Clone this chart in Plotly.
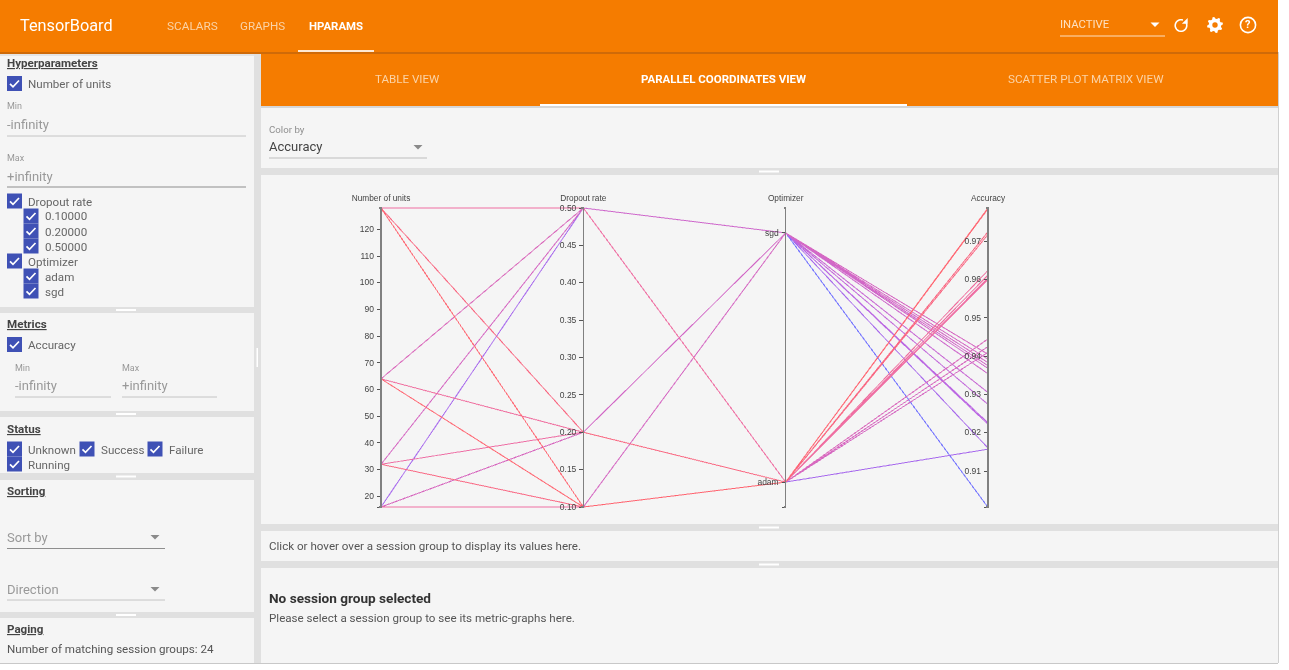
import math
import plotly.graph_objects as go

# ---------- data ----------
units = [128, 64, 128, 32, 64, 128, 16, 32, 64, 32, 16, 16,
         128, 64, 128, 32, 64, 128, 16, 32, 64, 16, 32, 16]
dropout = [0.1, 0.1, 0.2, 0.1, 0.2, 0.5, 0.1, 0.2, 0.5, 0.5, 0.2, 0.5,
           0.1, 0.1, 0.2, 0.1, 0.2, 0.5, 0.1, 0.2, 0.5, 0.2, 0.5, 0.5]
optimizer = [1] * 12 + [0] * 12   # 0 = adam, 1 = sgd
accuracy = [0.9405, 0.9392, 0.9383, 0.9375, 0.9368, 0.9354, 0.9305, 0.9274, 0.9226, 0.9222, 0.9160, 0.9005,
            0.9787, 0.9785, 0.9725, 0.9718, 0.9624, 0.9612, 0.9604, 0.9600, 0.9445, 0.9425, 0.9410, 0.9157]

# the first and last entries are the unlabelled end ticks of each axis
unit_ticks = [16, 20, 30, 40, 50, 60, 70, 80, 90, 100, 110, 120, 128]
unit_labels = ["", "20", "30", "40", "50", "60", "70", "80", "90", "100", "110", "120", ""]
dropout_ticks = [0.10, 0.15, 0.20, 0.25, 0.30, 0.35, 0.40, 0.45, 0.50]
optimizer_ticks = [-0.1, 0, 1, 1.1]
optimizer_labels = ["", "adam", "sgd", ""]
accuracy_ticks = [0.9006, 0.91, 0.92, 0.93, 0.94, 0.95, 0.96, 0.97, 0.9787]
accuracy_labels = ["", "0.91", "0.92", "0.93", "0.94", "0.95", "0.96", "0.97", ""]

W, H = 1289, 670
ORANGE = "#f57c00"
PANEL = "#f5f5f5"
GUTTER = "#e0e0e0"
BLUE = "#3f51b5"
FONT = "Roboto"
BODY = 11.6

shapes, annos = [], []


def X(x):
    return x / W


def Y(y):
    return 1 - y / H


def rect(x0, y0, x1, y1, color):
    shapes.append(dict(type="rect", xref="paper", yref="paper", x0=X(x0), x1=X(x1), y0=Y(y0), y1=Y(y1),
                       fillcolor=color, line=dict(width=0), layer="below"))


def hline(x0, x1, y, color="#bdbdbd", w=1):
    shapes.append(dict(type="line", xref="paper", yref="paper", x0=X(x0), x1=X(x1), y0=Y(y), y1=Y(y),
                       line=dict(color=color, width=w), layer="below"))


def poly(points, fill=None, color=None, w=1.5, close=True):
    d = "M" + " L".join(f"{X(a):.5f},{Y(b):.5f}" for a, b in points) + (" Z" if close else "")
    shapes.append(dict(type="path", xref="paper", yref="paper", path=d, fillcolor=fill or "rgba(0,0,0,0)",
                       line=dict(color=color or "rgba(0,0,0,0)", width=w if color else 0), layer="below"))


def text(x, y, s, size=BODY, color="#555555", anchor="left"):
    annos.append(dict(xref="paper", yref="paper", x=X(x), y=Y(y), text=s, showarrow=False, xanchor=anchor,
                      yanchor="middle", align=anchor, borderpad=0, borderwidth=0,
                      font=dict(family=FONT, size=size, color=color)))


def check(cx, cy):
    shapes.append(dict(type="rect", xref="paper", yref="paper", x0=X(cx - 7.5), x1=X(cx + 7.5), y0=Y(cy - 7.5),
                       y1=Y(cy + 7.5), fillcolor=BLUE, line=dict(width=0), layer="below"))
    poly([(cx - 4.5, cy + 0.3), (cx - 1.5, cy + 3.3), (cx + 4.5, cy - 3)], color="white", w=1.7, close=False)


def tri(cx, cy, color="#8a8a8a", r=4.5):
    poly([(cx - r, cy - 2), (cx + r, cy - 2), (cx, cy + 2.5)], fill=color)


def handle(cx, cy):
    rect(cx - 10, cy - 1, cx + 10, cy + 1, "#ffffff")


# ---------- page structure ----------
rect(0, 52, 1278, 663, GUTTER)
for y0, y1 in [(54, 307), (313, 411), (417, 473), (480, 612), (618, 663)]:
    rect(0, y0, 254, y1, PANEL)
for y0, y1 in [(106, 168), (175, 524), (531, 561), (568, 663)]:
    rect(261, y0, 1278, y1, PANEL)
rect(0, 663, W, H, "#ffffff")
rect(1278, 0, W, H, "#ffffff")
hline(0, 1278, 663.5, "#c8c8c8", 1)
shapes.append(dict(type="line", xref="paper", yref="paper", x0=X(1278.5), x1=X(1278.5), y0=Y(52), y1=Y(663),
                   line=dict(color="#d0d0d0", width=1), layer="below"))

rect(0, 0, 1278, 52, ORANGE)
rect(261, 54, 1278, 106, ORANGE)
rect(0, 52, 1278, 54, "#cf6a08")
rect(261, 106, 1278, 108, "#d6d6d6")
rect(0, 54, 254, 56, "#e4e4e4")

# header
text(20, 25.5, "TensorBoard", 16.3, "#ffffff")
text(167, 25.5, "SCALARS", 11.8, "#fbd3a6")
text(240, 25.5, "GRAPHS", 11.6, "#fbd3a6")
text(309, 25.5, "<b>HPARAMS</b>", 11.4, "#ffffff")
rect(298, 50, 374, 52, "#ffe9d2")
text(1060, 25, "INACTIVE", 11.3, "#fde0c0")
hline(1060, 1165, 36, "#fde0c0", 1)
tri(1155, 24.5, "#ffffff")
# refresh icon
cx, cy = 1181, 25.5
poly([(cx + 5.8 * math.cos(math.radians(a)), cy + 5.8 * math.sin(math.radians(a))) for a in range(-25, 300, 15)],
     color="#ffffff", w=1.6, close=False)
poly([(cx + 6.7, cy - 7.5), (cx + 6.7, cy - 1.7), (cx + 0.9, cy - 1.7)], fill="#ffffff")
# gear icon
cx, cy = 1215, 25
gear = []
for i in range(8):
    base = i * 45 - 22.5
    for a, r in [(base - 5, 6.2), (base + 5, 8), (base + 17, 8), (base + 28, 6.2)]:
        gear.append((cx + r * math.cos(math.radians(a)), cy + r * math.sin(math.radians(a))))
poly(gear, fill="#ffffff")
shapes.append(dict(type="circle", xref="paper", yref="paper", x0=X(cx - 2.7), x1=X(cx + 2.7), y0=Y(cy - 2.7),
                   y1=Y(cy + 2.7), fillcolor=ORANGE, line=dict(width=0), layer="below"))
# help icon
cx, cy = 1248, 25
shapes.append(dict(type="circle", xref="paper", yref="paper", x0=X(cx - 7.6), x1=X(cx + 7.6), y0=Y(cy - 7.6),
                   y1=Y(cy + 7.6), fillcolor="rgba(0,0,0,0)", line=dict(width=1.6, color="#ffffff"), layer="below"))
text(cx, cy, "<b>?</b>", 11, "#ffffff", "center")

# sub tabs
text(407, 78.5, "TABLE VIEW", 11.6, "#fbd3a6", "center")
text(723.5, 78.5, "<b>PARALLEL COORDINATES VIEW</b>", 11.5, "#ffffff", "center")
text(1086, 78.5, "SCATTER PLOT MATRIX VIEW", 11.7, "#fbd3a6", "center")
rect(540, 104, 907, 106, "#ffffff")

# colour selector
text(269, 129, "Color by", 9.7, "#8f8f8f")
text(269, 146.5, "Accuracy", 13, "#444444")
hline(269, 427, 158, "#bdbdbd", 1.2)
tri(418, 147)

# notes under the chart
text(269, 546, "Click or hover over a session group to display its values here.", BODY, "#555555")
text(269, 597.5, "<b>No session group selected</b>", 13.6, "#333333")
text(269, 618, "Please select a session group to see its metric-graphs here.", BODY, "#555555")

# sidebar: hyperparameters
text(7, 63, "<b><u>Hyperparameters</u></b>", BODY, "#444444")
check(14.5, 83.5)
text(28, 84, "Number of units", BODY, "#666666")
text(7, 106, "Min", 9, "#999999")
text(7, 124, "-infinity", 13, "#999999")
hline(7, 246, 136, "#c4c4c4", 1)
text(7, 158, "Max", 9, "#999999")
text(7, 176, "+infinity", 13, "#999999")
hline(7, 246, 187, "#8e8e8e", 1.2)
check(14.5, 201)
text(28, 202, "Dropout rate", BODY, "#666666")
for yy, lab in [(216, "0.10000"), (231, "0.20000"), (246, "0.50000")]:
    check(31, yy)
    text(45, yy + 0.5, lab, BODY, "#666666")
check(14.5, 261)
text(28, 261.5, "Optimizer", BODY, "#666666")
for yy, lab in [(276, "adam"), (291, "sgd")]:
    check(31, yy)
    text(45, yy + 0.5, lab, BODY, "#666666")

# sidebar: metrics
text(7, 324, "<b><u>Metrics</u></b>", BODY, "#444444")
check(14.5, 344.5)
text(28, 345, "Accuracy", BODY, "#666666")
text(15, 368, "Min", 9, "#999999")
text(122, 368, "Max", 9, "#999999")
text(15, 385, "-infinity", 13, "#999999")
text(122, 385, "+infinity", 13, "#999999")
hline(15, 111, 397, "#c4c4c4", 1)
hline(122, 217, 397, "#c4c4c4", 1)

# sidebar: status
text(7, 428.5, "<b><u>Status</u></b>", BODY, "#444444")
check(14.5, 449)
check(14.5, 464)
check(87, 449)
check(155, 449)
text(28, 449.5, "Unknown", BODY, "#666666")
text(101, 449.5, "Success", BODY, "#666666")
text(169, 449.5, "Failure", BODY, "#666666")
text(28, 464.5, "Running", BODY, "#666666")

# sidebar: sorting
text(7, 491, "<b><u>Sorting</u></b>", BODY, "#444444")
text(7, 537, "Sort by", 13, "#999999")
hline(7, 165, 548.5, "#8e8e8e", 1.2)
tri(155, 537)
text(7, 589, "Direction", 13, "#999999")
hline(7, 165, 600, "#c4c4c4", 1)
tri(155, 589)

# sidebar: paging
text(7, 629, "<b><u>Paging</u></b>", BODY, "#444444")
text(7, 648.5, "Number of matching session groups: 24", BODY, "#555555")

for cx, cy in [(126, 310), (126, 414), (126, 476.5), (126, 615), (769, 171.5), (769, 527.5), (769, 564.5)]:
    handle(cx, cy)
rect(256.5, 348, 258, 367, "#ffffff")

# ---------- chart ----------
label_font = dict(family="Liberation Sans", size=8.3, color="#444444")
tick_font = dict(family="Liberation Sans", size=8.5, color="#444444")
fig = go.Figure(go.Parcoords(
    domain=dict(x=[X(381), X(988)], y=[Y(509), Y(206)]),
    labelside="top",
    labelfont=label_font,
    tickfont=tick_font,
    rangefont=dict(size=1, color="rgba(0,0,0,0)"),
    unselected=dict(line=dict(opacity=0)),
    line=dict(color=accuracy, cmin=0.9005, cmax=0.9787,
              colorscale=[[0, "#7070ff"], [0.25, "#b868e8"], [0.5, "#d468c4"], [0.75, "#ee70a8"], [1, "#ff6470"]],
              showscale=False),
    dimensions=[
        dict(label="Number of units", values=units, range=[16, 128], tickvals=unit_ticks, ticktext=unit_labels),
        dict(label="Dropout rate", values=dropout, range=[0.1, 0.5], tickvals=dropout_ticks, tickformat=".2f"),
        dict(label="Optimizer", values=optimizer, range=[-0.1, 1.1], tickvals=optimizer_ticks,
             ticktext=optimizer_labels),
        dict(label="Accuracy", values=accuracy, range=[0.9006, 0.9787], tickvals=accuracy_ticks,
             ticktext=accuracy_labels),
    ],
))
fig.update_layout(width=W, height=H, margin=dict(l=0, r=0, t=0, b=0), paper_bgcolor=PANEL,
                  font=dict(family=FONT), shapes=shapes, annotations=annos)

css = """
.gl-canvas { filter: blur(0.7px); }
.parcoords .axis .domain { stroke: #808080 !important; stroke-opacity: 1 !important; stroke-width: 1.6px !important; }
.parcoords .axis .tick > line { stroke: #555 !important; stroke-opacity: 1 !important; }
.parcoords .axis text { text-shadow: none !important; }
.parcoords .axis-title { transform: translate(0px, -5px); text-shadow: none !important; }
"""
post = ("document.body.style.margin='0';var s=document.createElement('style');s.textContent="
        + repr(css.replace("\n", " ")) + ";document.head.appendChild(s);")
fig.write_html("out.html", post_script=post, config=dict(displayModeBar=False, plotGlPixelRatio=1))
